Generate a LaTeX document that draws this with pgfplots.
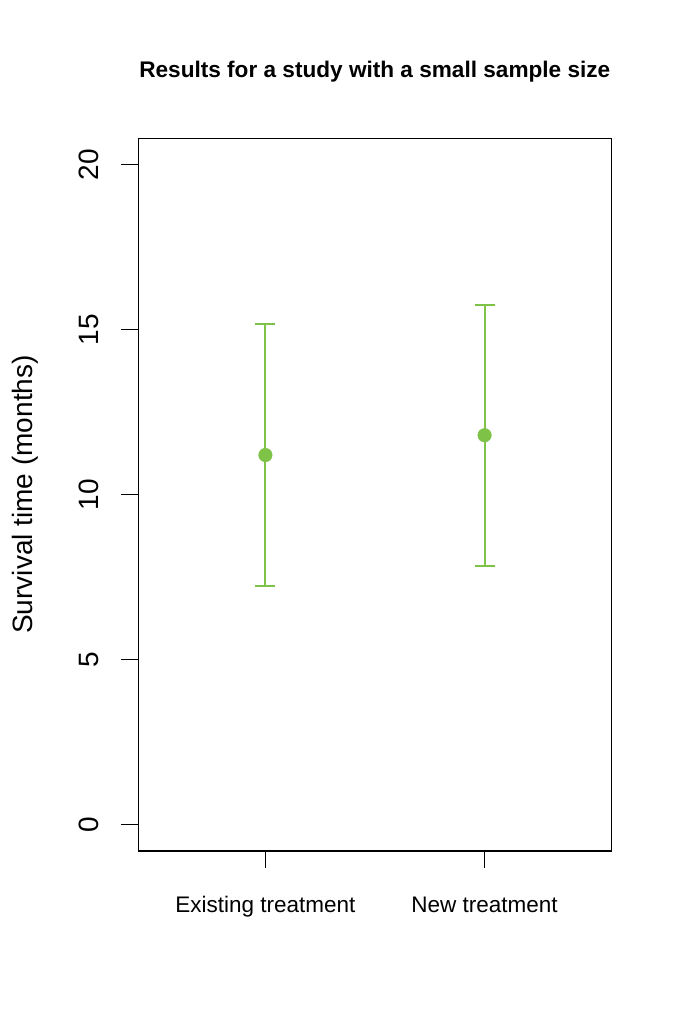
\documentclass[border=0pt]{standalone}
\usepackage{fontspec}
\setmainfont{Liberation Sans}
\usepackage{pgfplots}
\pgfplotsset{compat=1.18}
\definecolor{ptgreen}{RGB}{126,194,72}
\begin{document}
\begin{tikzpicture}
\path (0bp,0bp) rectangle (683bp,1024bp);
\begin{axis}[
  at={(138.3bp,173bp)}, anchor=south west,
  width=473.4bp, height=712.7bp, scale only axis,
  xmin=0.42, xmax=2.58, ymin=-0.8, ymax=20.8,
  line width=1.5bp,
  axis line style={line width=1.5bp},
  xtick={1,2}, xticklabels={Existing treatment, New treatment},
  ytick={0,5,10,15,20},
  xtick pos=bottom, ytick pos=left,
  tick align=outside, major tick length=17bp,
  tick style={line width=1.5bp, black},
  /pgf/number format/assume math mode=true,
  xticklabel style={font=\fontsize{22.5bp}{26bp}\selectfont, anchor=base, inner sep=0pt},
  xticklabel shift=44.7bp,
  yticklabel style={font=\fontsize{28bp}{32bp}\selectfont, rotate=90, anchor=base, inner sep=0pt},
  yticklabel shift=22.3bp,
  clip=false,
]
\addplot[only marks, mark=*, mark size=6.8bp, line width=2bp, color=ptgreen,
  mark options={fill=ptgreen, draw=ptgreen, line width=0.4bp},
  error bars/.cd, y dir=both, y explicit,
  error bar style={line width=2bp, ptgreen},
  error mark options={rotate=90, mark size=10bp, line width=2bp, ptgreen}]
  coordinates {
  (1,11.20) +- (0,3.96)
  (2,11.80) +- (0,3.96)
  };
\end{axis}
\node[anchor=base, font=\bfseries\fontsize{22.6bp}{26bp}\selectfont] at (374.8bp,946.7bp) {Results for a study with a small sample size};
\node[rotate=90, anchor=base, font=\fontsize{28bp}{32bp}\selectfont] at (32.5bp,529.5bp) {Survival time (months)};
\end{tikzpicture}
\end{document}
